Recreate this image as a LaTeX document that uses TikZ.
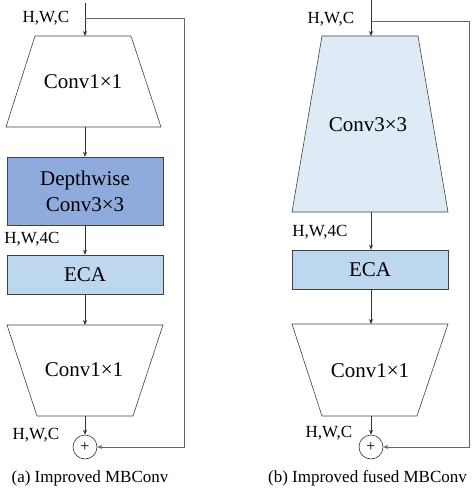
\documentclass[tikz,border=0pt]{standalone}
\usepackage{fontspec}
\setmainfont{Liberation Serif}
\usetikzlibrary{arrows.meta,positioning,calc}

\definecolor{dwblue}{RGB}{143,170,220}
\definecolor{ecablue}{RGB}{189,215,238}
\definecolor{convblue}{RGB}{222,235,247}

\tikzset{
  blk/.style={draw=black!75, line width=0.6pt, minimum width=156pt, inner sep=0pt, align=center, font=\fontsize{21}{26}\selectfont},
  txt/.style={inner sep=0pt, font=\fontsize{21}{26}\selectfont},
  lbl/.style={inner sep=0pt, font=\fontsize{17}{19}\selectfont},
  flow/.style={draw=black!80, line width=0.6pt, -{Stealth[length=5pt,width=4pt]}},
  skip/.style={draw=black!60, line width=0.6pt, -{Stealth[length=5pt,width=4pt]}},
  addop/.style={circle, draw=black!80, line width=0.6pt, minimum size=24pt, inner sep=0pt, font=\fontsize{16}{16}\selectfont},
  trap/.style={draw=black!75, line width=0.6pt},
}

\begin{document}
\begin{tikzpicture}[x=1pt,y=-1pt]
  \useasboundingbox (0,0) rectangle (474,491);

  %(a) improved MBConv
  \def\cx{85};
  \coordinate (a-in) at (\cx,3);
  \coordinate (a-split) at (\cx,18);
  \coordinate (a-skip) at (184,18);
  \node[lbl] (a-hwc) at (46,18) {H,W,C};

  \draw[trap] (35,36) -- (131,36) -- (161,127) -- (6,127) -- cycle;
  \coordinate (a-t1top) at (\cx,36);
  \coordinate (a-t1bot) at (\cx,127);
  \node[txt] (a-conv1) at (83,82) {Conv1×1};

  \node[blk, fill=dwblue, minimum height=68pt] (a-dw) at (\cx,191) {Depthwise\\Conv3×3};
  \node[lbl] (a-hw4c) at (32,239) {H,W,4C};
  \node[blk, fill=ecablue, minimum height=39pt] (a-eca) at (\cx,274.5) {ECA};

  \draw[trap] (7,325) -- (163,325) -- (133,416) -- (37,416) -- cycle;
  \coordinate (a-t2top) at (\cx,325);
  \coordinate (a-t2bot) at (\cx,416);
  \node[txt] (a-conv2) at (84,370) {Conv1×1};

  \node[addop] (a-add) at (\cx,447) {+};
  \node[lbl] (a-hwc2) at (36,435) {H,W,C};

  \draw[flow] (a-in) -- (a-t1top);
  \draw[flow] (a-t1bot) -- (a-dw.north);
  \draw[flow] (a-dw.south) -- (a-eca.north);
  \draw[flow] (a-eca.south) -- (a-t2top);
  \draw[flow] (a-t2bot) -- (a-add.north);
  \draw[skip] (a-split) -- (a-skip) |- (a-add.east);

  %(b) improved fused MBConv
  \def\cx{371};
  \coordinate (b-in) at (\cx,0);
  \coordinate (b-split) at (\cx,21);
  \coordinate (b-skip) at (469,21);
  \node[lbl] (b-hwc) at (331,19) {H,W,C};

  \draw[trap, fill=convblue] (322,36) -- (418,36) -- (448,212) -- (292,212) -- cycle;
  \coordinate (b-t1top) at (\cx,36);
  \coordinate (b-t1bot) at (\cx,212);
  \node[txt] (b-conv3) at (368,125) {Conv3×3};

  \node[lbl] (b-hw4c) at (320,232) {H,W,4C};
  \node[blk, fill=ecablue, minimum height=39pt] (b-eca) at (370,269.5) {ECA};

  \draw[trap] (292,324) -- (448,324) -- (417,416) -- (322,416) -- cycle;
  \coordinate (b-t2top) at (\cx,324);
  \coordinate (b-t2bot) at (\cx,416);
  \node[txt] (b-conv1) at (370,371) {Conv1×1};

  \node[addop] (b-add) at (\cx,447) {+};
  \node[lbl] (b-hwc2) at (329,433) {H,W,C};

  \draw[flow] (b-in) -- (b-t1top);
  \draw[flow] (b-t1bot) -- (b-eca.north -| b-t1bot);
  \draw[flow] (b-eca.south -| b-t2top) -- (b-t2top);
  \draw[flow] (b-t2bot) -- (b-add.north);
  \draw[skip] (b-split) -- (b-skip) |- (b-add.east);

  %captions
  \foreach \x/\cap/\name in {90/(a) Improved MBConv/a-cap, 367.5/(b) Improved fused MBConv/b-cap}{
    \node[lbl] (\name) at (\x,478) {\cap};
  }
\end{tikzpicture}
\end{document}
